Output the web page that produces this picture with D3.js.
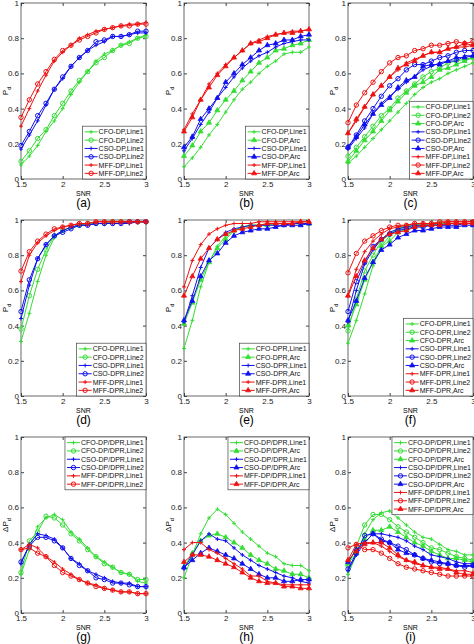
<!DOCTYPE html>
<html><head><meta charset="utf-8">
<script src="https://cdn.jsdelivr.net/npm/d3@7"></script>
<style>body{margin:0;background:#fff}svg{display:block}text{font-family:"Liberation Sans",Arial,sans-serif}</style>
</head><body><svg id="c" width="474" height="644"></svg>
<script>
const snr = [1.5,1.6,1.7,1.8,1.9,2.0,2.1,2.2,2.3,2.4,2.5,2.6,2.7,2.8,2.9,3.0];
const xTicks = [1.5,2,2.5,3];
const yTicks = [0,0.2,0.4,0.6,0.8,1];
const panelLetters = ["a","b","c","d","e","f","g","h","i"];
const methods = ["CFO","CSO","MFF"];
const colors = {CFO:"#33dd33", CSO:"#1010ee", MFF:"#ee1111"};

const dataA = [
 ["CFO","Line1",[.08,.13,.19,.27,.33,.40,.48,.55,.61,.67,.71,.73,.76,.78,.80,.82]],
 ["CFO","Line2",[.10,.16,.23,.28,.36,.43,.50,.56,.61,.66,.69,.73,.76,.77,.80,.81]],
 ["CSO","Line1",[.17,.25,.33,.42,.51,.57,.64,.69,.73,.76,.78,.81,.81,.82,.83,.83]],
 ["CSO","Line2",[.19,.27,.36,.43,.51,.58,.64,.69,.73,.78,.79,.81,.81,.82,.84,.84]],
 ["MFF","Line1",[.30,.40,.50,.59,.67,.72,.76,.80,.82,.84,.85,.86,.87,.88,.88,.89]],
 ["MFF","Line2",[.35,.45,.54,.61,.68,.73,.76,.79,.81,.83,.85,.86,.87,.87,.88,.88]]];
const dataB = [
 ["CFO","Line1",[.07,.12,.18,.25,.31,.38,.45,.51,.55,.60,.64,.67,.71,.72,.72,.75]],
 ["CFO","Arc",[.13,.19,.27,.32,.39,.45,.50,.56,.61,.66,.69,.73,.74,.76,.77,.79]],
 ["CSO","Line1",[.16,.23,.31,.38,.46,.52,.58,.63,.67,.70,.72,.75,.77,.78,.79,.79]],
 ["CSO","Arc",[.18,.24,.34,.40,.46,.55,.60,.65,.69,.73,.76,.77,.79,.79,.81,.82]],
 ["MFF","Line1",[.28,.37,.45,.54,.60,.65,.69,.73,.77,.79,.81,.82,.83,.84,.84,.85]],
 ["MFF","Arc",[.27,.35,.45,.52,.59,.64,.69,.73,.77,.78,.80,.82,.83,.83,.84,.85]]];
const dataC = [
 ["CFO","Line1",[.09,.13,.18,.23,.28,.33,.38,.43,.48,.52,.55,.57,.60,.62,.64,.66]],
 ["CFO","Line2",[.13,.18,.24,.30,.36,.40,.46,.50,.54,.58,.61,.63,.66,.67,.68,.69]],
 ["CFO","Arc",[.10,.16,.22,.27,.33,.39,.44,.49,.53,.55,.58,.62,.63,.65,.67,.69]],
 ["CSO","Line1",[.17,.23,.29,.37,.43,.47,.51,.55,.58,.62,.64,.66,.67,.67,.70,.70]],
 ["CSO","Line2",[.18,.25,.33,.40,.47,.53,.57,.62,.65,.65,.67,.69,.70,.72,.73,.73]],
 ["CSO","Arc",[.18,.24,.31,.37,.42,.46,.52,.56,.58,.64,.65,.65,.67,.69,.69,.70]],
 ["MFF","Line1",[.26,.33,.41,.48,.53,.58,.62,.66,.68,.70,.72,.72,.74,.75,.75,.76]],
 ["MFF","Line2",[.32,.42,.49,.55,.61,.66,.69,.70,.73,.74,.76,.76,.77,.78,.77,.78]],
 ["MFF","Arc",[.26,.34,.41,.48,.53,.58,.63,.65,.67,.70,.72,.72,.74,.75,.77,.76]]];
const dataD = [
 ["CFO","Line1",[.31,.47,.65,.80,.90,.94,.96,.97,.98,.98,.98,.99,.99,.99,.99,.99]],
 ["CFO","Line2",[.38,.57,.72,.83,.91,.94,.96,.97,.98,.98,.98,.99,.99,.99,.99,.99]],
 ["CSO","Line1",[.44,.63,.78,.86,.91,.94,.96,.97,.97,.98,.98,.98,.98,.98,.99,.99]],
 ["CSO","Line2",[.48,.66,.78,.86,.91,.93,.95,.97,.97,.98,.98,.98,.98,.99,.99,.99]],
 ["MFF","Line1",[.65,.80,.87,.91,.94,.96,.97,.98,.98,.99,.99,.99,.99,.99,.99,.99]],
 ["MFF","Line2",[.71,.82,.88,.92,.95,.96,.97,.98,.98,.99,.99,.99,.99,.99,.99,.99]]];
const dataE = [
 ["CFO","Line1",[.27,.43,.62,.76,.85,.91,.94,.96,.97,.97,.98,.98,.98,.98,.98,.98]],
 ["CFO","Arc",[.41,.53,.66,.76,.84,.89,.94,.96,.97,.97,.97,.98,.98,.98,.98,.98]],
 ["CSO","Line1",[.42,.57,.73,.84,.89,.93,.95,.96,.97,.97,.97,.97,.97,.98,.98,.98]],
 ["CSO","Arc",[.43,.54,.68,.77,.81,.87,.91,.93,.94,.95,.95,.96,.97,.97,.97,.98]],
 ["MFF","Line1",[.62,.77,.86,.92,.95,.97,.98,.98,.98,.99,.99,.99,.99,.99,.99,.99]],
 ["MFF","Arc",[.57,.68,.78,.84,.89,.92,.94,.95,.96,.97,.98,.98,.98,.98,.99,.99]]];
const dataF = [
 ["CFO","Line1",[.30,.43,.58,.74,.85,.91,.95,.97,.97,.98,.98,.98,.98,.98,.98,.98]],
 ["CFO","Line2",[.37,.55,.71,.80,.88,.92,.95,.96,.97,.97,.98,.98,.98,.98,.98,.98]],
 ["CFO","Arc",[.40,.52,.66,.76,.85,.88,.93,.95,.96,.97,.97,.98,.98,.98,.98,.98]],
 ["CSO","Line1",[.42,.60,.75,.83,.89,.93,.95,.96,.97,.97,.97,.97,.98,.98,.98,.98]],
 ["CSO","Line2",[.48,.65,.76,.85,.89,.92,.94,.95,.96,.96,.97,.97,.97,.97,.98,.98]],
 ["CSO","Arc",[.43,.54,.67,.76,.83,.86,.90,.92,.94,.94,.95,.96,.96,.96,.97,.97]],
 ["MFF","Line1",[.57,.72,.82,.88,.92,.95,.96,.97,.98,.98,.98,.98,.99,.99,.99,.99]],
 ["MFF","Line2",[.70,.81,.88,.91,.94,.96,.97,.97,.98,.98,.98,.99,.99,.99,.99,.99]],
 ["MFF","Arc",[.57,.68,.77,.84,.89,.92,.93,.94,.96,.97,.97,.97,.98,.98,.98,.98]]];
const dataG = [
 ["CFO","Line1",[.22,.36,.49,.54,.56,.53,.46,.42,.37,.32,.29,.26,.23,.22,.18,.17]],
 ["CFO","Line2",[.23,.41,.46,.55,.54,.50,.45,.41,.36,.32,.28,.26,.23,.22,.19,.19]],
 ["CSO","Line1",[.28,.39,.45,.44,.42,.37,.31,.28,.24,.22,.20,.18,.17,.17,.15,.15]],
 ["CSO","Line2",[.29,.38,.43,.43,.41,.37,.31,.27,.24,.20,.19,.17,.17,.16,.15,.15]],
 ["MFF","Line1",[.36,.39,.37,.32,.29,.25,.22,.19,.17,.16,.14,.13,.12,.12,.11,.11]],
 ["MFF","Line2",[.36,.37,.34,.32,.27,.23,.21,.19,.17,.15,.14,.13,.12,.12,.11,.11]]];
const dataH = [
 ["CFO","Line1",[.20,.33,.45,.54,.59,.56,.51,.46,.42,.38,.34,.32,.28,.27,.27,.24]],
 ["CFO","Arc",[.26,.34,.41,.44,.45,.43,.40,.37,.33,.30,.28,.25,.24,.22,.22,.20]],
 ["CSO","Line1",[.25,.33,.41,.45,.42,.41,.37,.33,.30,.27,.25,.23,.21,.20,.18,.17]],
 ["CSO","Arc",[.26,.30,.34,.37,.35,.33,.31,.28,.25,.22,.20,.20,.18,.18,.19,.19]],
 ["MFF","Line1",[.36,.40,.40,.36,.34,.31,.28,.25,.21,.21,.18,.17,.16,.16,.16,.16]],
 ["MFF","Arc",[.29,.33,.33,.32,.30,.28,.26,.23,.20,.18,.17,.17,.15,.15,.14,.14]]];
const dataI = [
 ["CFO","Line1",[.22,.33,.45,.53,.57,.58,.54,.50,.46,.43,.42,.39,.36,.35,.33,.33]],
 ["CFO","Line2",[.27,.38,.50,.56,.56,.53,.49,.46,.43,.40,.37,.36,.34,.32,.31,.30]],
 ["CFO","Arc",[.28,.34,.42,.47,.47,.49,.46,.43,.40,.38,.35,.33,.31,.31,.30,.29]],
 ["CSO","Line1",[.24,.33,.40,.45,.45,.44,.43,.41,.38,.36,.33,.32,.31,.29,.28,.28]],
 ["CSO","Line2",[.25,.34,.44,.45,.42,.40,.38,.36,.33,.31,.29,.28,.28,.27,.26,.27]],
 ["CSO","Arc",[.29,.36,.40,.45,.41,.40,.36,.34,.33,.31,.30,.29,.28,.27,.27,.27]],
 ["MFF","Line1",[.30,.39,.40,.40,.38,.35,.32,.30,.28,.27,.26,.26,.25,.24,.24,.23]],
 ["MFF","Line2",[.37,.39,.36,.36,.34,.31,.28,.26,.25,.24,.23,.22,.21,.21,.21,.21]],
 ["MFF","Arc",[.30,.35,.39,.40,.40,.37,.33,.30,.29,.27,.26,.25,.25,.23,.22,.22]]];
const panelData = [dataA,dataB,dataC,dataD,dataE,dataF,dataG,dataH,dataI];
const rowSuffix = ["-DP,","-DPR,","-DP/DPR,"];
const rowYLabel = ["P","P","\u0394P"];

const svg = d3.select("#c");
const colLeft = [21,184,348], W = 125;
const rowTop = [3,220,437], H = 176;

function marker(g, type, x, y, c){
  if(type==="Line1"){
    g.append("path").attr("d",`M${x-2},${y}H${x+2}M${x},${y-2}V${y+2}`).attr("stroke",c).attr("stroke-width",1).attr("fill","none");
  } else if(type==="Line2"){
    g.append("circle").attr("cx",x).attr("cy",y).attr("r",2.2).attr("stroke",c).attr("fill","none").attr("stroke-width",1);
  } else {
    g.append("path").attr("d",d3.symbol(d3.symbolTriangle,11)()).attr("transform",`translate(${x},${y})`).attr("stroke",c).attr("fill",c).attr("stroke-width",0.8);
  }
}

panelData.forEach((data,pi)=>{
  const r = Math.floor(pi/3), c = pi%3;
  const L = colLeft[c], T = rowTop[r];
  const x = d3.scaleLinear().domain([1.5,3]).range([L,L+W]);
  const y = d3.scaleLinear().domain([0,1]).range([T+H,T]);
  const g = svg.append("g");
  const fmt = d3.format("~g");
  const axes = [
    [d3.axisBottom(x).tickValues(xTicks).tickFormat(fmt),`translate(0,${T+H})`,"b"],
    [d3.axisTop(x).tickValues(xTicks).tickFormat(""),`translate(0,${T})`,"t"],
    [d3.axisLeft(y).tickValues(yTicks).tickFormat(fmt),`translate(${L},0)`,"l"],
    [d3.axisRight(y).tickValues(yTicks).tickFormat(""),`translate(${L+W},0)`,"r"]];
  axes.forEach(([a,t,k])=>{
    a.tickSizeInner(-3).tickSizeOuter(0).tickPadding(0);
    const ag = g.append("g").attr("transform",t).call(a);
    ag.selectAll("text").attr("font-size",8).attr("fill","#222");
    if(k==="b") ag.selectAll("text").attr("y",2).attr("dy","0.71em");
    if(k==="l") ag.selectAll("text").attr("x",-2);
    ag.selectAll("line").attr("stroke","#444");
    ag.select(".domain").remove();
  });
  g.append("rect").attr("x",L).attr("y",T).attr("width",W).attr("height",H).attr("fill","none").attr("stroke","#444").attr("stroke-width",0.8);
  const line = d3.line().x((d,i)=>x(snr[i])).y(d=>y(d));
  const clipId = "clip"+pi;
  svg.append("clipPath").attr("id",clipId).append("rect").attr("x",L-4).attr("y",T-4).attr("width",W+8).attr("height",H+8);
  const pg = g.append("g").attr("clip-path",`url(#${clipId})`);
  data.forEach(([m,t,vals])=>{
    const col = colors[m];
    pg.append("path").attr("d",line(vals)).attr("fill","none").attr("stroke",col).attr("stroke-width",1);
    vals.forEach((v,i)=>marker(pg,t,x(snr[i]),y(v),col));
  });
  g.append("text").attr("x",L+W/2).attr("y",T+H+17).attr("text-anchor","middle").attr("font-size",7).text("SNR");
  g.append("text").attr("x",L+W/2).attr("y",T+H+28).attr("text-anchor","middle").attr("font-size",12)
    .attr("font-family","Liberation Serif, Times New Roman, serif").text("("+panelLetters[pi]+")");
  const yl = g.append("text").attr("transform",`translate(${L-13},${T+H/2}) rotate(-90)`).attr("text-anchor","middle").attr("font-size",8);
  yl.append("tspan").text(rowYLabel[r]);
  yl.append("tspan").attr("font-size",5.5).attr("dy",2.5).text("d");
  const entries = data.map(([m,t])=>m+rowSuffix[r]+t);
  const lh = 8.3, lg = g.append("g");
  const texts = entries.map((e,i)=>lg.append("text").attr("font-size",7).attr("fill","#111").text(e));
  const tw = d3.max(texts, t=>t.node().getComputedTextLength());
  const lw = tw + 18, lhTot = entries.length*lh + 3;
  const lx = L+W-lw;
  const ly = r===2 ? T : T+H-lhTot;
  lg.insert("rect","text").attr("x",lx).attr("y",ly).attr("width",lw).attr("height",lhTot).attr("fill","#fff").attr("stroke","#444").attr("stroke-width",0.7);
  data.forEach(([m,t],i)=>{
    const cy = ly + 1.5 + lh*i + lh/2;
    const col = colors[m];
    lg.append("line").attr("x1",lx+2).attr("x2",lx+15).attr("y1",cy).attr("y2",cy).attr("stroke",col).attr("stroke-width",1);
    marker(lg,t,lx+8.5,cy,col);
    texts[i].attr("x",lx+16).attr("y",cy+2.5);
  });
});
</script></body></html>
